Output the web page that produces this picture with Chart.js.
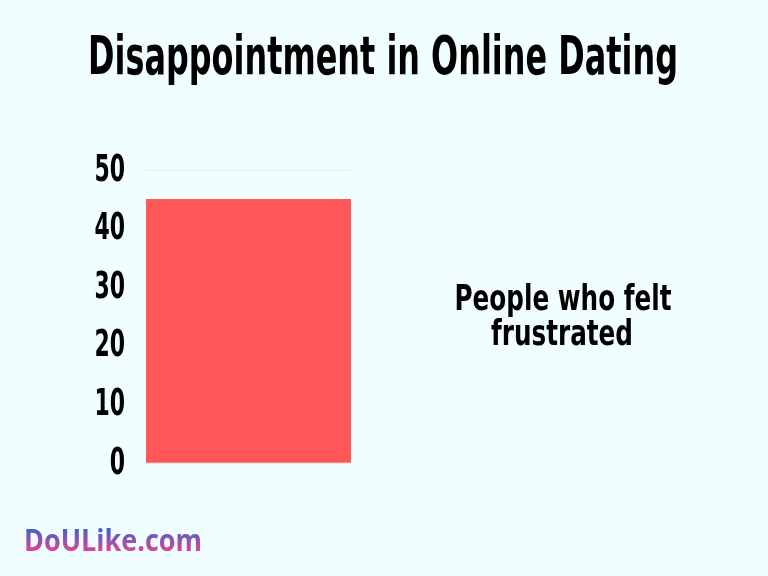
<!DOCTYPE html>
<html>
<head>
<meta charset="utf-8">
<script src="https://cdn.jsdelivr.net/npm/chart.js@4/dist/chart.umd.min.js"></script>
<style>
html,body{margin:0;padding:0;background:#f0feff;}
#wrap{width:768px;height:576px;position:relative;}
</style>
</head>
<body>
<div id="wrap"><canvas id="c" width="768" height="576"></canvas></div>
<script>
const titleText = "Disappointment in Online Dating";
const categories = ["People who felt frustrated"];
const seriesLabel = ["People who felt", "frustrated"];
const values = [45];
const yTicks = [0, 10, 20, 30, 40, 50];
const brandText = "DoULike.com";

const condensed = '"DejaVu Sans Condensed", "Liberation Sans Narrow", "Liberation Sans", sans-serif';

const decor = {
  id: 'decor',
  afterDraw(chart) {
    const ctx = chart.ctx;
    ctx.save();
    ctx.fillStyle = '#000';
    // y tick labels, positioned by the library's y scale
    const ys = chart.scales.y;
    ctx.textAlign = 'right';
    ctx.textBaseline = 'middle';
    ctx.font = 'bold 37px ' + condensed;
    ys.ticks.forEach(t => {
      const label = String(t.value);
      const w = ctx.measureText(label).width * 0.66;
      ctx.fillText(label, chart.chartArea.left - 21, ys.getPixelForValue(t.value) + 1, w);
    });
    // title
    ctx.textAlign = 'center';
    ctx.textBaseline = 'alphabetic';
    ctx.font = 'bold 54px ' + condensed;
    ctx.fillText(titleText, 383, 74, 590);
    // series label on the right
    ctx.font = 'bold 36px ' + condensed;
    ctx.fillText(seriesLabel[0], 563, 310, 217);
    ctx.fillText(seriesLabel[1], 562, 345, 142);
    // brand
    ctx.textAlign = 'left';
    ctx.font = 'bold 30px "Open Sans", "DejaVu Sans", sans-serif';
    const g = ctx.createLinearGradient(0, 528, 0, 552);
    g.addColorStop(0, '#3d63c4');
    g.addColorStop(1, '#e2439a');
    ctx.fillStyle = g;
    ctx.fillText(brandText, 24, 551, 178);
    ctx.restore();
  }
};

new Chart(document.getElementById('c'), {
  type: 'bar',
  data: {
    labels: categories,
    datasets: [{
      label: categories[0],
      data: values,
      backgroundColor: '#ff5757',
      borderWidth: 0,
      barPercentage: 1,
      categoryPercentage: 1
    }]
  },
  options: {
    responsive: false,
    animation: false,
    events: [],
    layout: { padding: { left: 20, right: 417, top: 170, bottom: 113 } },
    plugins: { legend: { display: false }, title: { display: false }, tooltip: { enabled: false } },
    scales: {
      x: { display: false },
      y: {
        min: 0, max: 50,
        afterFit(scale) { scale.width = 126; },
        afterBuildTicks(scale) { scale.ticks = yTicks.map(v => ({ value: v })); },
        border: { display: false },
        grid: { color: '#e2efef', drawTicks: false, lineWidth: 1 },
        ticks: { display: false }
      }
    }
  },
  plugins: [decor]
});
</script>
</body>
</html>
